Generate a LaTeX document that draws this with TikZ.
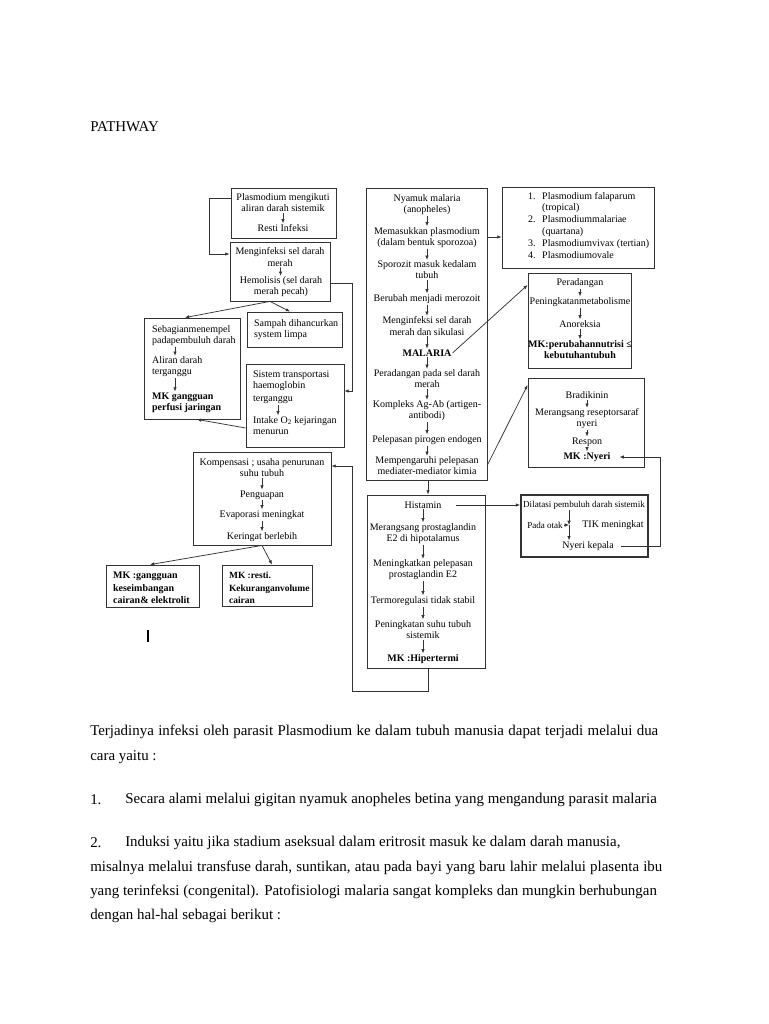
\documentclass[tikz,border=0pt]{standalone}
\usepackage{fontspec}
\setmainfont{Liberation Serif}
\usepackage{xcolor}
\usetikzlibrary{arrows.meta,fit}
\definecolor{lineink}{HTML}{333333}
\newcommand{\dfont}{\fontsize{7.5}{8.3}\selectfont}
\newcommand{\sfont}{\fontsize{6.8}{8}\selectfont}
\newcommand{\pfont}{\fontsize{11.2}{13}\selectfont}

\begin{document}
\begin{tikzpicture}[x=0.75pt,y=-0.75pt,
  box/.style={draw=lineink,line width=0.6pt,inner sep=0pt},
  txt/.style={font=\dfont,inner sep=0.6pt,align=center},
  ltxt/.style={txt,align=left,anchor=west},
  mk/.style={txt,font={\dfont\bfseries}},
  arr/.style={-{Latex[length=3.2pt,width=2.6pt]},draw=lineink,line width=0.55pt},
  body/.style={font=\pfont,inner sep=0pt,anchor=west}
]
\fill[white] (0,0) rectangle (768,1024);
\useasboundingbox (0,0) rectangle (768,1024);

\node[body] (title) at (90,127) {PATHWAY};

% boxes
\node[box,fit={(231,188) (336,238)}] (bxA) {};
\node[box,fit={(230,242) (330,301)}] (bxB) {};
\node[box,fit={(247,312) (342,347)}] (bxC) {};
\node[box,fit={(246,364) (344,447)}] (bxD) {};
\node[box,fit={(144,318) (240,419)}] (bxE) {};
\node[box,fit={(193,452) (331,545)}] (bxF) {};
\node[box,fit={(106,565) (199,607)}] (bxGa) {};
\node[box,fit={(222,565) (312,606)}] (bxGb) {};
\node[box,fit={(366,188) (487,480)}] (bxH) {};
\node[box,fit={(502,187) (654,268)}] (bxI) {};
\node[box,fit={(528,273) (631,368)}] (bxJ) {};
\node[box,fit={(528,378) (644,467)}] (bxK) {};
\node[box,line width=1.3pt,fit={(521,495) (648,557)}] (bxL) {};
\node[box,fit={(367,495) (485,668)}] (bxM) {};

% left column
\node[txt] (a1) at (283,203) {Plasmodium mengikuti\\aliran darah sistemik};
\node[txt] (a2) at (283,228) {Resti Infeksi};
\node[txt] (b1) at (280,257) {Menginfeksi sel darah\\merah};
\node[txt] (b2) at (281,287) {Hemolisis (sel darah\\merah pecah)};
\node[ltxt] (c1) at (253,329.5) {Sampah dihancurkan\\system limpa};
\node[ltxt] (d1) at (252,387.5) {Sistem transportasi\\haemoglobin\\[1.5pt]terganggu};
\node[ltxt] (d2) at (252,425.5) {Intake O\textsubscript{2} kejaringan\\menurun};
\node[ltxt] (e1) at (151,335.5) {Sebagianmenempel\\padapembuluh darah};
\node[ltxt] (e2) at (151,367) {Aliran darah\\terganggu};
\node[ltxt,font={\dfont\bfseries}] (e3) at (151,402.5) {MK gangguan\\perfusi jaringan};
\node[txt] (f1) at (262,468) {Kompensasi ; usaha penurunan\\suhu tubuh};
\node[txt] (f2) at (262,495) {Penguapan};
\node[txt] (f3) at (262,515) {Evaporasi meningkat};
\node[txt] (f4) at (262,537) {Keringat berlebih};
\node[ltxt,font={\dfont\bfseries}] (g1) at (112,588) {MK :gangguan\\[1pt]keseimbangan\\[1pt]cairan\& elektrolit};
\node[ltxt,font={\fontsize{7.1}{8.3}\selectfont\bfseries}] (g2) at (228,588) {MK :resti.\\[1pt]Kekuranganvolume\\[1pt]cairan};

% centre column
\node[txt] (h1) at (427,205) {Nyamuk malaria\\(anopheles)};
\node[txt] (h2) at (427,237.5) {Memasukkan plasmodium\\(dalam bentuk sporozoa)};
\node[txt] (h3) at (427,270) {Sporozit masuk kedalam\\tubuh};
\node[txt] (h4) at (427,299) {Berubah menjadi merozoit};
\node[txt] (h5) at (427,326) {Menginfeksi sel darah\\merah dan sikulasi};
\node[mk] (h6) at (427,353) {MALARIA};
\node[txt] (h7) at (427,379) {Peradangan pada sel darah\\merah};
\node[txt] (h8) at (427,411) {Kompleks Ag-Ab (artigen-\\antibodi)};
\node[txt] (h9) at (427,440) {Pelepasan pirogen endogen};
\node[txt] (h10) at (427,466) {Mempengaruhi pelepasan\\mediater-mediator kimia};

\node[txt] (m1) at (423,505) {Histamin};
\node[txt] (m2) at (423,533.5) {Merangsang prostaglandin\\E2 di hipotalamus};
\node[txt] (m3) at (423,570) {Meningkatkan pelepasan\\prostaglandin E2};
\node[txt] (m4) at (423,601) {Termoregulasi tidak stabil};
\node[txt] (m5) at (423,629.5) {Peningkatan suhu tubuh\\sistemik};
\node[mk] (m6) at (423,659) {MK :Hipertermi};

% right column
\node[txt,align=left,anchor=west] (i1) at (527,226.5) {\renewcommand\arraystretch{1.08}%
  \begin{tabular}{@{}l@{\hspace{5pt}}l@{}}
  1. & Plasmodium falaparum\\
     & (tropical)\\
  2. & Plasmodiummalariae\\
     & (quartana)\\
  3. & Plasmodiumvivax (tertian)\\
  4. & Plasmodiumovale
  \end{tabular}};
\node[txt] (j1) at (580,283) {Peradangan};
\node[txt] (j2) at (580,302) {Peningkatanmetabolisme};
\node[txt] (j3) at (580,324) {Anoreksia};
\node[mk] (j4) at (580,349.5) {MK:perubahannutrisi ≤\\kebutuhantubuh};
\node[txt] (k1) at (587,395) {Bradikinin};
\node[txt] (k2) at (587,419) {Merangsang reseptorsaraf\\nyeri};
\node[txt] (k3) at (587,442) {Respon};
\node[mk] (k4) at (587,457) {MK :Nyeri};
\node[txt,font=\sfont] (l1) at (584,505) {Dilatasi pembuluh darah sistemik};
\node[txt,font=\sfont] (l2) at (545,525) {Pada otak};
\node[txt] (l3) at (613,525) {TIK meningkat};
\node[txt] (l4) at (588,546) {Nyeri kepala};
\coordinate (lx) at (569,525);

% arrows inside the boxes
\draw[arr] (a1) -- (a2);
\draw[arr] (b1) -- (b2);
\draw[arr] (d1.south -| 278,0) -- (d2.north -| 278,0);
\draw[arr] (e1.south -| 175,0) -- (e2.north -| 175,0);
\draw[arr] (e2.south -| 175,0) -- (e3.north -| 175,0);
\draw[arr] (f1) -- (f2);
\draw[arr] (f2) -- (f3);
\draw[arr] (f3) -- (f4);
\foreach \u/\v in {h1/h2,h2/h3,h3/h4,h4/h5,h5/h6,h6/h7,h7/h8,h8/h9,h9/h10,
  m1/m2,m2/m3,m3/m4,m4/m5,m5/m6,j1/j2,j2/j3,j3/j4,k1/k2,k2/k3,k3/k4}
  \draw[arr] (\u) -- (\v);
\draw[arr] (l1.south -| lx) -- (lx);
\draw[arr] (l2) -- (lx);
\draw[arr] (lx) -- (l4.north -| lx);

% arrows between the boxes
\draw[arr] (bxA.west |- 0,198) -| (209,254) -- (bxB.west |- 0,254);
\draw[arr] (bxB.east |- 0,283) -| (352,391) -- (bxD.east |- 0,391);
\draw[arr] (bxB.south -| 270,0) -- (bxE.north -| 185,0);
\draw[arr] (bxB.south -| 270,0) -- (bxC.north -| 290,0);
\draw[arr] (bxD.west |- 0,428) -- (bxE.south -| 197,0);
\draw[arr] (bxF.south -| 262,0) -- (bxGa.north -| 150,0);
\draw[arr] (bxF.south -| 262,0) -- (bxGb.north -| 272,0);
\draw[arr] (bxM.south -| 428,0) |- (352,691) |- (bxF.east |- 0,466);
\draw[arr] (bxH.south -| 428,0) -- (bxM.north -| 428,0);
\draw[arr] (bxH.east |- 0,237) -- (bxI.west |- 0,237);
\draw[arr] (h6.east) -- (bxJ.west |- 0,285);
\draw[arr] (bxH.east |- 0,465) -- (bxK.west |- 0,385);
\draw[arr] ([xshift=10pt]m1.east) -- (bxL.west |- 0,505);
\draw[arr] ([xshift=5pt]l4.east) -| (660,457) -- ([xshift=6pt]k4.east);
\draw[line width=1pt] (148,630) -- (148,642);

% text under the diagram
\node[body] (p1) at (90,732) {\hbox to 426pt{Terjadinya infeksi oleh parasit Plasmodium ke dalam tubuh manusia dapat terjadi melalui dua}};
\node[body] (p2) at (90,757) {cara yaitu :};
\node[body] (p3) at (90,800) {1.};
\node[body] (p3b) at (125,800) {Secara alami melalui gigitan nyamuk anopheles betina yang mengandung parasit malaria};
\node[body] (p4) at (90,843) {2.};
\node[body] (p4b) at (125,843) {Induksi yaitu jika stadium aseksual dalam eritrosit masuk ke dalam darah manusia,};
\node[body] (p5) at (90,868) {\hbox to 429pt{misalnya melalui transfuse darah, suntikan, atau pada bayi yang baru lahir melalui plasenta ibu}};
\node[body] (p6) at (90,892) {\hbox to 425pt{yang terinfeksi (congenital). Patofisiologi malaria sangat kompleks dan mungkin berhubungan}};
\node[body] (p7) at (90,916) {dengan hal-hal sebagai berikut :};
\end{tikzpicture}
\end{document}
